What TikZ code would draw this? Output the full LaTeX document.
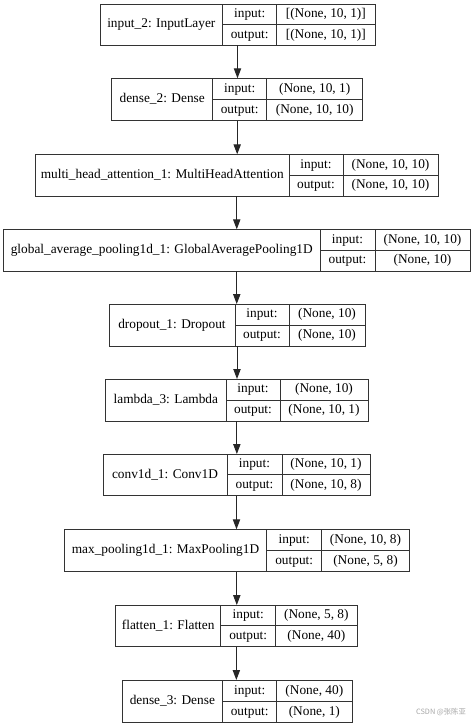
\documentclass[tikz,border=0pt]{standalone}
\usepackage{fontspec}
\setmainfont{Liberation Serif}
\newfontfamily\cjk{Noto Sans CJK SC}
\usetikzlibrary{arrows.meta,calc}
\tikzstyle{frame}=[draw=black!80,line width=0.65pt]
\tikzstyle{layerbox}=[frame,inner sep=0pt,outer sep=0pt]
\tikzstyle{celltext}=[inner sep=0pt,text height=7pt,text depth=2pt,font=\fontsize{10}{12}\selectfont]
\tikzstyle{flow}=[black!85,line width=0.7pt,-{Triangle[length=7.5pt,width=5.5pt]}]
\def\layer(#1)(#2:#3)(#4:#5:#6:#7)#8% Syntax: (name)(top:bottom)(left:col1:col2:right){label}
    { \node[layerbox,minimum width={(#7-#4)*0.75pt},minimum height={(#3-#2)*0.75pt}] (#1) at ({(#4+#7)/2},{(#2+#3)/2}) {};
      \draw[frame] (#5,#2) -- (#5,#3) (#6,#2) -- (#6,#3) (#5,{(#2+#3)/2}) -- (#7,{(#2+#3)/2});
      \node[celltext] at ({(#4+#5)/2},{(#2+#3)/2}) {#8};
      \node[celltext] at ({(#5+#6)/2},{(3*#2+#3)/4}) {input:};
      \node[celltext] at ({(#5+#6)/2},{(#2+3*#3)/4}) {output:};
      \coordinate (#1-in) at ({(#6+#7)/2},{(3*#2+#3)/4});
      \coordinate (#1-out) at ({(#6+#7)/2},{(#2+3*#3)/4}); }
\newcommand{\shapes}[3]{
	\node[celltext] at (#1-in) {#2};
	\node[celltext] at (#1-out) {#3};
}
\begin{document}
\begin{tikzpicture}[x=0.75pt,y=-0.75pt]
	\useasboundingbox (0,0) rectangle (474,726);
	\layer(input2)(4.3:45)(100:222.7:276.7:375){input\_2: InputLayer}
	\shapes{input2}{[(None, 10, 1)]}{[(None, 10, 1)]}
	\layer(dense2)(78.3:120.7)(111.7:212.7:266.7:362.7){dense\_2: Dense}
	\shapes{dense2}{(None, 10, 1)}{(None, 10, 10)}
	\layer(mha1)(154.3:196)(35.5:289:343:438){multi\_head\_attention\_1: MultiHeadAttention}
	\shapes{mha1}{(None, 10, 10)}{(None, 10, 10)}
	\layer(gap1)(229.3:271)(3.5:320:375:470){global\_average\_pooling1d\_1: GlobalAveragePooling1D}
	\shapes{gap1}{(None, 10, 10)}{(None, 10)}
	\layer(dropout1)(304:346)(109:235:289:365){dropout\_1: Dropout}
	\shapes{dropout1}{(None, 10)}{(None, 10)}
	\layer(lambda3)(379:421)(105.7:226:280:368){lambda\_3: Lambda}
	\shapes{lambda3}{(None, 10)}{(None, 10, 1)}
	\layer(conv1)(454:495.5)(103:227:282:370){conv1d\_1: Conv1D}
	\shapes{conv1}{(None, 10, 1)}{(None, 10, 8)}
	\layer(maxpool1)(529.3:571.7)(64.3:266.7:321.7:409.3){max\_pooling1d\_1: MaxPooling1D}
	\shapes{maxpool1}{(None, 10, 8)}{(None, 5, 8)}
	\layer(flatten1)(605:646.7)(115.7:220.7:275.7:357){flatten\_1: Flatten}
	\shapes{flatten1}{(None, 5, 8)}{(None, 40)}
	\layer(dense3)(680:722.7)(122:222.7:276.7:352){dense\_3: Dense}
	\shapes{dense3}{(None, 40)}{(None, 1)}
	% arrows between layers
	\foreach \a/\b in {input2/dense2,dense2/mha1,mha1/gap1,gap1/dropout1,dropout1/lambda3,lambda3/conv1,conv1/maxpool1,maxpool1/flatten1,flatten1/dense3}
		\draw[flow] (\a.south) -- (\a.south |- \b.north);
	\node[text=black!35,font=\cjk\fontsize{5.5}{6}\selectfont] (mark) at (441,712) {CSDN @张陈亚};
\end{tikzpicture}
\end{document}
